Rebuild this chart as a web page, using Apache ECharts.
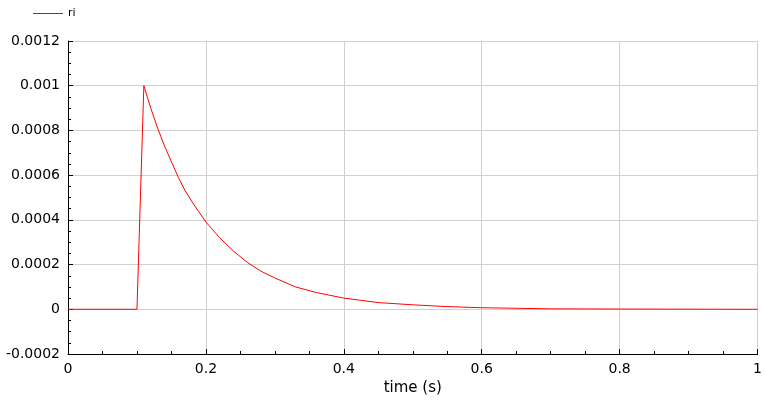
<!DOCTYPE html>
<html><head><meta charset="utf-8">
<script src="https://cdn.jsdelivr.net/npm/echarts@6/dist/echarts.min.js"></script>
<style>html,body{margin:0;padding:0;background:#fff}#c{width:765px;height:410px}</style>
</head><body><div id="c"></div>
<script>
const times = [0,0.1,0.11,0.12,0.13,0.14,0.15,0.16,0.17,0.18,0.2,0.22,0.24,0.26,0.28,0.3,0.33,0.36,0.4,0.45,0.5,0.55,0.6,0.7,0.8,1];
const ri = [0,0,0.001,0.0009,0.00081,0.00073,0.00066,0.00059,0.00053,0.00048,0.00039,0.00032,0.00026,0.00021,0.00017,0.00014,0.0001,0.000075,0.00005,0.00003,0.00002,0.000012,0.000007,0.000002,0.000001,0];
const yTicks = ['-0.0002','0','0.0002','0.0004','0.0006','0.0008','0.001','0.0012'];
const chart = echarts.init(document.getElementById('c'));
const font = 'DejaVu Sans';
chart.setOption({
  animation:false,
  textStyle:{fontFamily:font},
  legend:{left:28,top:3,itemWidth:30,itemHeight:1,icon:'rect',textStyle:{fontSize:11,color:'#000',fontFamily:font},data:['ri']},
  grid:{left:68,right:6,top:41,bottom:56},
  xAxis:{type:'value',min:0,max:1,interval:0.2,name:'time (s)',nameLocation:'middle',nameGap:27,
    nameTextStyle:{fontSize:15,color:'#000'},
    axisLine:{onZero:false,lineStyle:{color:'#000'}},axisTick:{inside:true,lineStyle:{color:'#000'}},
    minorTick:{show:true,splitNumber:4,length:3,lineStyle:{color:'#000'}},
    axisLabel:{fontSize:14,color:'#000',formatter:v=>String(+v.toFixed(1))},
    splitLine:{lineStyle:{color:'#d0d0d0'}}},
  yAxis:{type:'value',min:-0.0002,max:0.0012,interval:0.0002,
    axisLine:{show:true,lineStyle:{color:'#000'}},axisTick:{inside:true,lineStyle:{color:'#000'}},
    minorTick:{show:true,splitNumber:4,length:3,lineStyle:{color:'#000'}},
    axisLabel:{fontSize:14,color:'#000',formatter:v=>yTicks[Math.round((v+0.0002)/0.0002)]},
    splitLine:{lineStyle:{color:'#d0d0d0'}}},
  series:[{name:'ri',type:'line',data:times.map((t,i)=>[t,ri[i]]),showSymbol:false,smooth:false,
    lineStyle:{color:'#ff0000',width:1},itemStyle:{color:'#ff0000'}}]
});
</script></body></html>
